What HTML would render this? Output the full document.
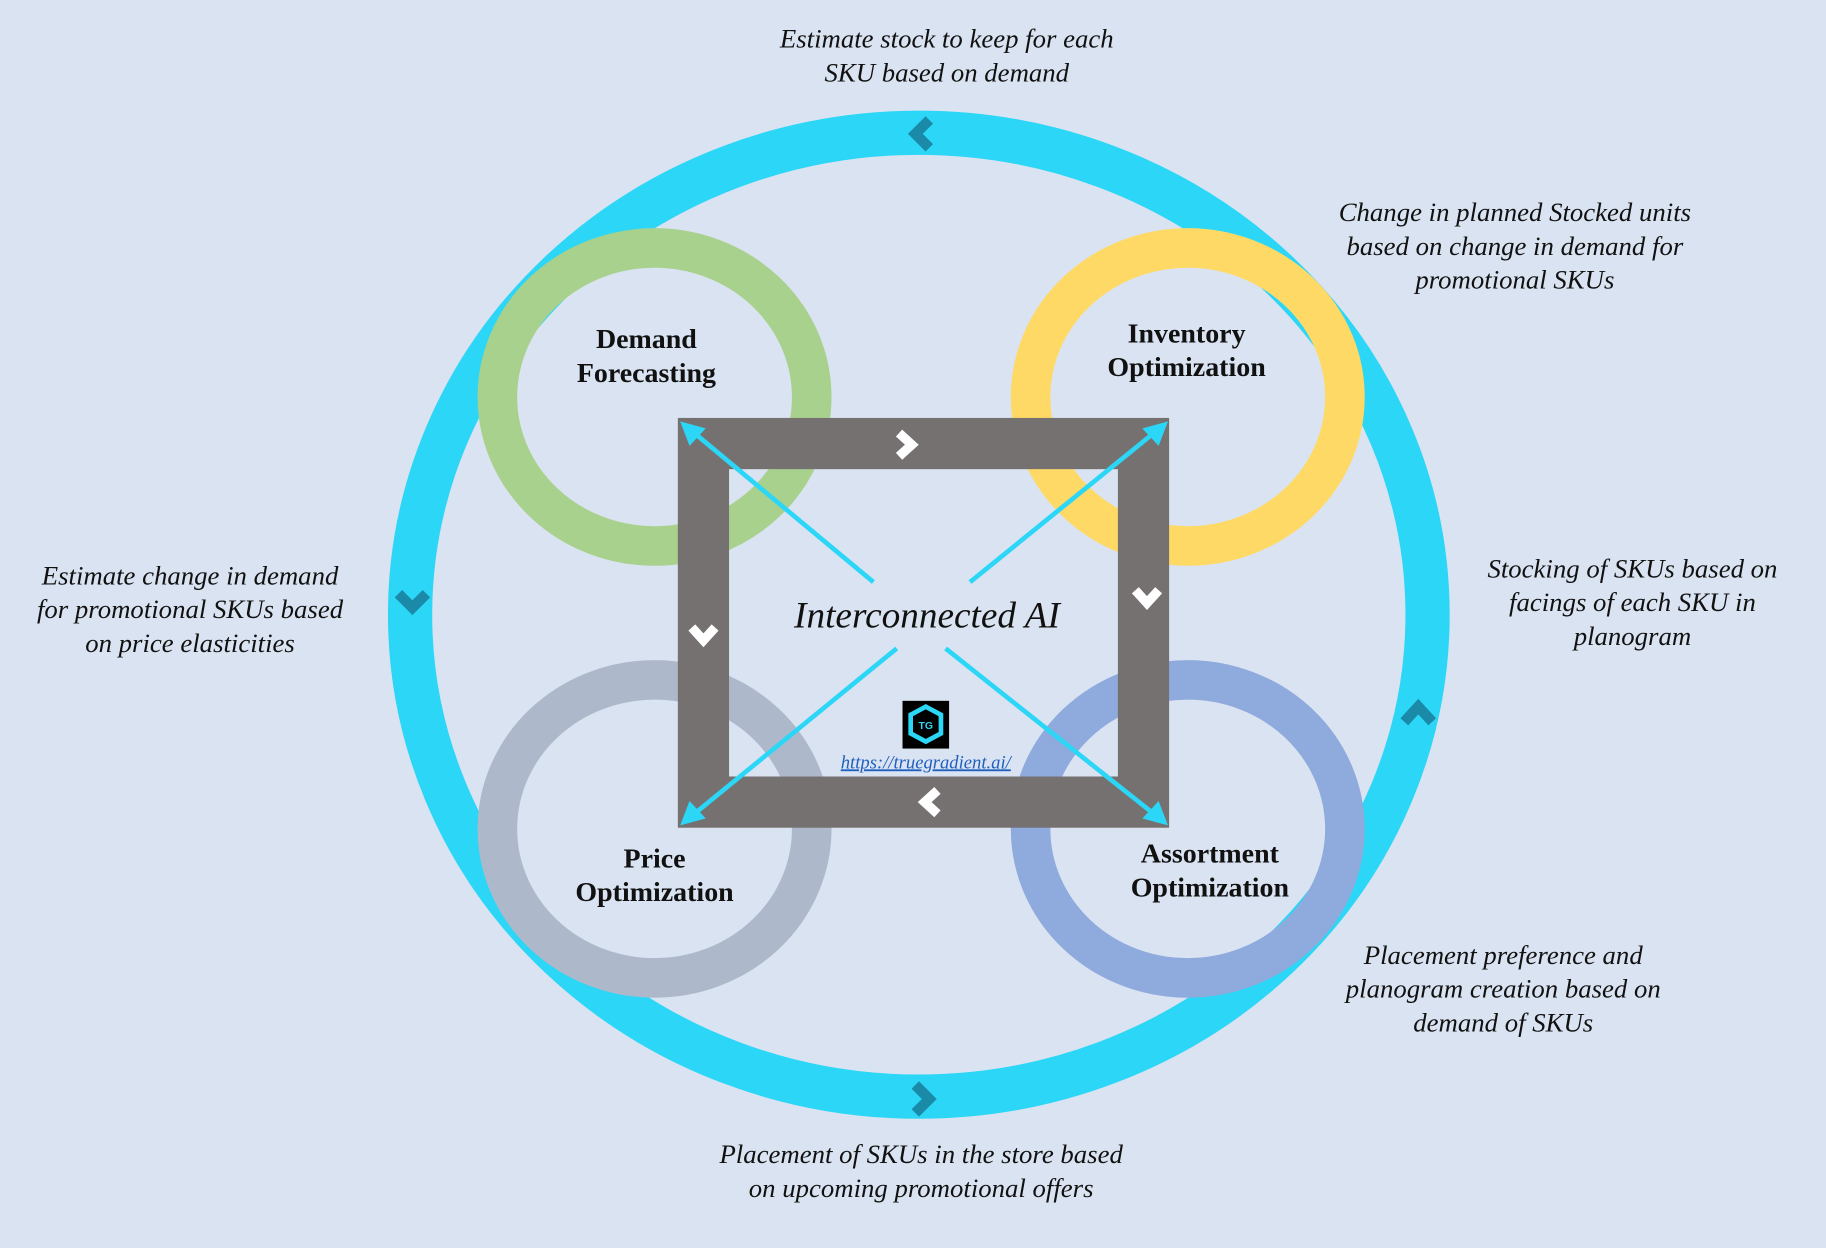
<!DOCTYPE html>
<html><head><meta charset="utf-8"><style>
html,body{margin:0;padding:0;background:#dae3f1;}
svg{display:block}
text{font-family:"Liberation Serif",serif;}
.it{font-style:italic;font-size:23px;fill:#111;text-anchor:middle}
.b{font-weight:bold;font-size:24px;fill:#111;text-anchor:middle}
</style></head><body>
<svg width="1826" height="1248" viewBox="0 0 1568 1072" xmlns="http://www.w3.org/2000/svg">
<rect width="1568" height="1072" fill="#dae3f1"/>
<ellipse cx="789" cy="528" rx="437" ry="414" fill="none" stroke="#2bd6f6" stroke-width="38"/>
<g fill="none" stroke="#1b8aa8" stroke-width="9" stroke-linejoin="miter">
<polyline points="798,103 786,115 798,127"/>
<polyline points="342,510 354,522 366,510"/>
<polyline points="786,932 798,944 786,956"/>
<polyline points="1206,620 1218,607 1230,620"/>
</g>
<ellipse cx="562" cy="341" rx="135" ry="128" fill="none" stroke="#a9d18e" stroke-width="34"/>
<ellipse cx="562" cy="712" rx="135" ry="128" fill="none" stroke="#adb9ca" stroke-width="34"/>
<ellipse cx="1020" cy="341" rx="135" ry="128" fill="none" stroke="#ffd966" stroke-width="34"/>
<ellipse cx="1020" cy="712" rx="135" ry="128" fill="none" stroke="#8faadc" stroke-width="34"/>
<rect x="604" y="381" width="378" height="308" fill="none" stroke="#767171" stroke-width="44"/>
<g fill="none" stroke="#fff" stroke-width="8">
<polyline points="772,372 783,382 772,392"/>
<polyline points="975,507 985,518 995,507"/>
<polyline points="805,679 794,689 805,699"/>
<polyline points="594,539 604,550 614,539"/>
</g>
<g stroke="#2bd6f6" stroke-width="4">
<line x1="595" y1="371" x2="750" y2="500"/>
<line x1="992" y1="371" x2="833" y2="500"/>
<line x1="595" y1="700" x2="770" y2="557"/>
<line x1="992" y1="700" x2="812" y2="557"/>
</g>
<g fill="#2bd6f6">
<polygon points="584,362 606,368 592,383"/>
<polygon points="1003,362 981,368 995,383"/>
<polygon points="584,709 606,703 592,688"/>
<polygon points="1003,709 981,703 995,688"/>
</g>
<text x="796" y="539" style="font-style:italic;font-size:32px;fill:#111;text-anchor:middle">Interconnected AI</text>
<rect x="775" y="602" width="40" height="41" fill="#000"/>
<polygon points="795,607 808,614 808,630 795,637 782,630 782,614" fill="none" stroke="#2bd6f6" stroke-width="4"/>
<text x="795" y="626" style="font-size:9px;font-weight:bold;fill:#2bd6f6;text-anchor:middle;font-family:'Liberation Sans',sans-serif">TG</text>
<text x="795" y="660" style="font-style:italic;font-size:16px;fill:#1f5fbf;text-anchor:middle;text-decoration:underline">https://truegradient.ai/</text>
<text class="b" x="555" y="299">Demand</text><text class="b" x="555" y="328">Forecasting</text>
<text class="b" x="1019" y="294">Inventory</text><text class="b" x="1019" y="323">Optimization</text>
<text class="b" x="562" y="745">Price</text><text class="b" x="562" y="774">Optimization</text>
<text class="b" x="1039" y="741">Assortment</text><text class="b" x="1039" y="770">Optimization</text>
<text class="it" x="813" y="41">Estimate stock to keep for each</text>
<text class="it" x="813" y="70">SKU based on demand</text>
<text class="it" x="1301" y="190">Change in planned Stocked units</text>
<text class="it" x="1301" y="219">based on change in demand for</text>
<text class="it" x="1301" y="248">promotional SKUs</text>
<text class="it" x="1402" y="496">Stocking of SKUs based on</text>
<text class="it" x="1402" y="525">facings of each SKU in</text>
<text class="it" x="1402" y="554">planogram</text>
<text class="it" x="163" y="502">Estimate change in demand</text>
<text class="it" x="163" y="531">for promotional SKUs based</text>
<text class="it" x="163" y="560">on price elasticities</text>
<text class="it" x="1291" y="828">Placement preference and</text>
<text class="it" x="1291" y="857">planogram creation based on</text>
<text class="it" x="1291" y="886">demand of SKUs</text>
<text class="it" x="791" y="999">Placement of SKUs in the store based</text>
<text class="it" x="791" y="1028">on upcoming promotional offers</text>
</svg>
</body></html>
